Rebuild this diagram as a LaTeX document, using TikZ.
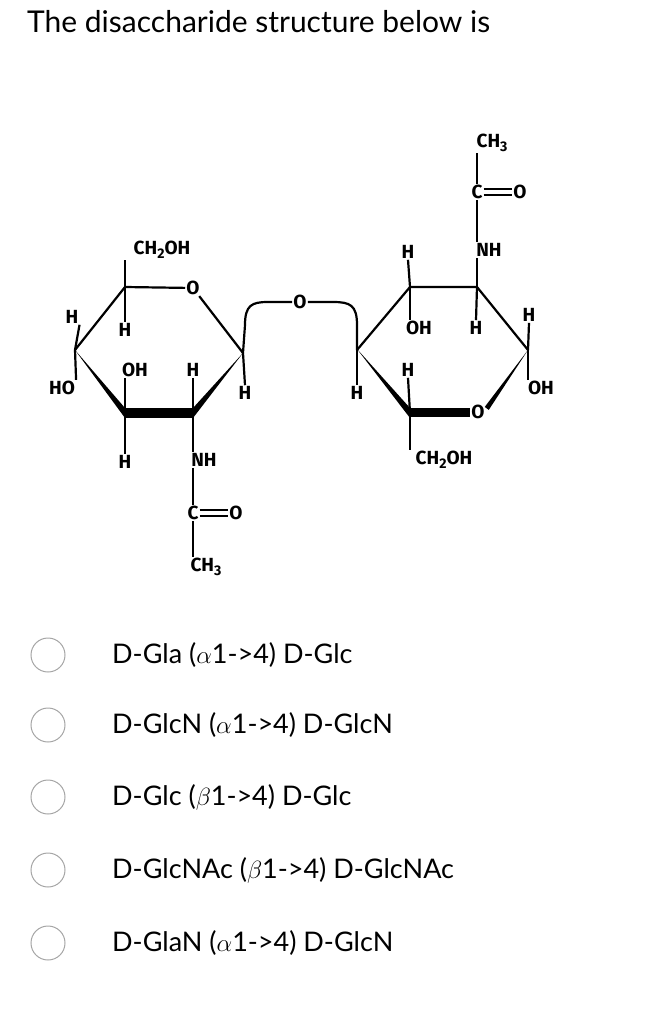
\documentclass[tikz,border=0pt]{standalone}
\usepackage{fontspec}
\usetikzlibrary{calc}
\setmainfont{Lato}
\newfontfamily\chem{Fira Sans}
\newcommand\chsub[1]{\raisebox{-0.35ex}{\fontsize{14}{14}\selectfont #1}}
\begin{document}
\begin{tikzpicture}[x=1pt,y=-1pt,
  lab/.style={font=\chem\bfseries\fontsize{19}{19}\selectfont, inner sep=1pt},
  bond/.style={line width=2.2pt},
  opt/.style={font=\fontsize{27}{29}\selectfont, anchor=west, inner sep=0pt},
  radio/.style={draw=gray!70, line width=1pt, circle, minimum size=34pt, inner sep=0pt}]
\useasboundingbox (0,0) rectangle (664,1012);
\node[anchor=west, font=\fontsize{30}{32}\selectfont, inner sep=0pt] (title) at (27,22) {The disaccharide structure below is};
% left ring
\coordinate (a5) at (125,287); \coordinate (a1) at (243,353);
\coordinate (a2) at (193,413); \coordinate (a3) at (125,413); \coordinate (a4) at (75,350);
\node[lab] (aO) at (193,288) {O};
\draw[bond] (a4) -- (a5) -- (aO);
\draw[bond] (aO) -- (a1);
\fill (a4) -- ($(a3)+(0,-5)$) -- ($(a3)+(0,5)$) -- cycle;
\fill ($(a3)+(0,-5)$) rectangle ($(a2)+(0,5)$);
\fill ($(a2)+(0,-5)$) -- (a1) -- ($(a2)+(0,5)$) -- cycle;
\node[lab] (ch2a) at (162,250) {CH\chsub{2}OH};
\node[lab] (h5a) at (125,330) {H};
\node[lab] (h4a) at (72,317) {H};
\node[lab] (hoa) at (62,388) {HO};
\node[lab] (oh3a) at (135,370) {OH};
\node[lab] (h2a) at (193,370) {H};
\node[lab] (h3a) at (125,462) {H};
\node[lab] (nha) at (204,460) {NH};
\node[lab] (ca) at (193,513) {C};
\node[lab] (oa) at (236,513) {O};
\node[lab] (me_a) at (206,567) {CH\chsub{3}};
\node[lab] (h1a) at (245,393) {H};
\draw[bond] (a5) -- (a5|-ch2a.south);
\draw[bond] (a5) -- (h5a.north);
\draw[bond] (a4) -- (h4a.south east);
\draw[bond] (a4) -- (hoa.north east);
\draw[bond] (a3) -- (a3|-oh3a.south);
\draw[bond] (a2) -- (h2a.south);
\draw[bond] (a3) -- (h3a.north);
\draw[bond] (a2) -- (a2|-nha.north);
\draw[bond] (a2|-nha.south) -- (ca.north);
\draw[bond] (ca.south) -- (a2|-me_a.north);
\draw[bond] ([yshift=-3]ca.east) -- ([yshift=-3]oa.west);
\draw[bond] ([yshift=3]ca.east) -- ([yshift=3]oa.west);
\draw[bond] (a1) -- (h1a.north);
% right ring
\coordinate (b4) at (357,350); \coordinate (b3) at (410,287); \coordinate (b2) at (477,287);
\coordinate (b1) at (528,350); \coordinate (b5) at (410,413);
\node[lab] (bO) at (478,412) {O};
\draw[bond] (b4) -- (b3) -- (b2) -- (b1);
\fill ($(b4)+(0,-1)$) -- ($(b5)+(0,-5)$) -- ($(b5)+(0,5)$) -- cycle;
\fill ($(b5)+(0,-5)$) rectangle ($(bO.west)+(0,5)$);
\fill ($(bO.north east)+(-1,3)$) -- (b1) -- ($(bO.north east)+(3,6)$) -- cycle;
\node[lab] (h3b) at (408,252) {H};
\node[lab] (oh3b) at (419,328) {OH};
\node[lab] (nhb) at (489,250) {NH};
\node[lab] (h2b) at (476,328) {H};
\node[lab] (cb) at (477,192) {C};
\node[lab] (ob) at (520,192) {O};
\node[lab] (me_b) at (492,143) {CH\chsub{3}};
\node[lab] (h1b) at (529,315) {H};
\node[lab] (ohb) at (541,388) {OH};
\node[lab] (h4b) at (357,393) {H};
\node[lab] (h5b) at (408,370) {H};
\node[lab] (ch2b) at (444,460) {CH\chsub{2}OH};
\draw[bond] (b3) -- (h3b.south);
\draw[bond] (b3) -- (b3|-oh3b.north);
\draw[bond] (b2) -- (b2|-nhb.south);
\draw[bond] (b2|-nhb.north) -- (cb.south);
\draw[bond] (cb.north) -- (b2|-me_b.south);
\draw[bond] ([yshift=-3]cb.east) -- ([yshift=-3]ob.west);
\draw[bond] ([yshift=3]cb.east) -- ([yshift=3]ob.west);
\draw[bond] (b2) -- (h2b.north);
\draw[bond] (b1) -- (h1b.south);
\draw[bond] (b1) -- (b1|-ohb.north);
\draw[bond] (b4) -- (h4b.north);
\draw[bond] (b5) -- (h5b.south);
\draw[bond] (b5) -- (b5|-ch2b.north);
% glycosidic link
\node[lab] (gO) at (300,302) {O};
\draw[bond] (a1) -- (245,325) .. controls (245,305) and (252,302) .. (268,302) -- (gO.west);
\draw[bond] (gO.east) -- (333,302) .. controls (350,302) and (357,305) .. (357,325) -- (b4);
% options
\foreach \y/\t [count=\i] in {655/{D-Gla ($\alpha$1->4) D-Glc},725/{D-GlcN ($\alpha$1->4) D-GlcN},797/{D-Glc ($\beta$1->4) D-Glc},870/{D-GlcNAc ($\beta$1->4) D-GlcNAc},943/{D-GlaN ($\alpha$1->4) D-GlcN}}{
  \node[radio] (r\i) at (48,\y) {};
  \node[opt] (t\i) at (112,\y) {\t};
}
\end{tikzpicture}
\end{document}
